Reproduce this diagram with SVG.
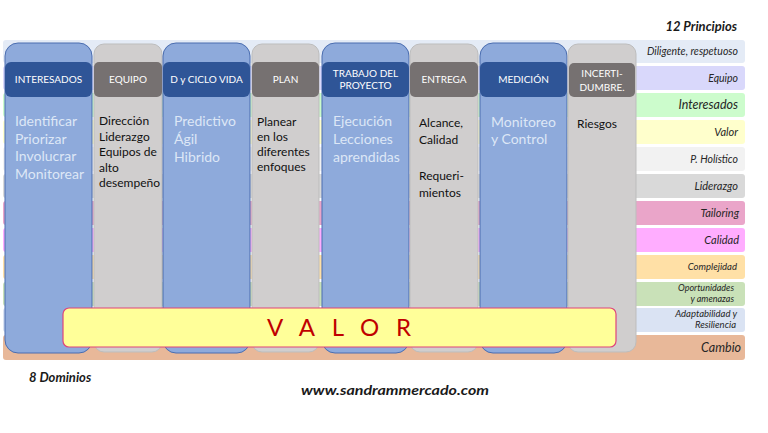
<svg xmlns="http://www.w3.org/2000/svg" width="768" height="433" viewBox="0 0 768 433">
<style>
.band{stroke:none}
.lbl{font-family:Lato,"Liberation Sans",sans-serif;font-style:italic;fill:#262626;text-anchor:end}
.colB{fill:#8eaadb;stroke:#4a6db0;stroke-width:1}
.colG{fill:#d0cece;stroke:#bdbdbd;stroke-width:1}
.hdB{fill:#2f5597}
.hdG{fill:#767171}
.hd{font-family:Lato,"Liberation Sans",sans-serif;font-size:10px;fill:#ffffff;text-anchor:middle}
.tB{font-family:Lato,"Liberation Sans",sans-serif;font-size:14px;fill:#dde7f6}
.tG{font-family:Lato,"Liberation Sans",sans-serif;font-size:12px;fill:#111111}
.ttl{font-family:Lato,"Liberation Sans",sans-serif;font-style:italic;font-weight:bold;font-size:13px;fill:#1a1a1a}
</style>
<rect width="768" height="433" fill="#ffffff"/>
<g id="principios">
<rect class="band" x="3" y="40" width="742" height="23" rx="3" fill="#e4ebf6"/>
<rect class="band" x="3" y="66" width="742" height="24" rx="3" fill="#d9d8fb"/>
<rect class="band" x="3" y="93" width="742" height="24" rx="3" fill="#ccfccc"/>
<rect class="band" x="3" y="120" width="742" height="24" rx="3" fill="#ffffcc"/>
<rect class="band" x="3" y="147" width="742" height="24" rx="3" fill="#f2f2f2"/>
<rect class="band" x="3" y="174" width="742" height="24" rx="3" fill="#d9d9d9"/>
<rect class="band" x="3" y="201" width="742" height="24" rx="3" fill="#eaa5c9"/>
<rect class="band" x="3" y="228" width="742" height="24" rx="3" fill="#ffadff"/>
<rect class="band" x="3" y="255" width="742" height="24" rx="3" fill="#ffe0a6"/>
<rect class="band" x="3" y="282" width="742" height="24" rx="3" fill="#c9e1b8"/>
<rect class="band" x="3" y="308" width="742" height="24" rx="3" fill="#dae3f3"/>
<rect class="band" x="3" y="335" width="742" height="25" rx="3" fill="#e8b899"/>
<text class="lbl" x="738" y="55" font-size="10.5">Diligente, respetuoso</text>
<text class="lbl" x="738" y="82" font-size="10.5">Equipo</text>
<text class="lbl" x="738" y="109" font-size="12.5">Interesados</text>
<text class="lbl" x="738" y="136" font-size="11">Valor</text>
<text class="lbl" x="738" y="163" font-size="10.5">P. Holístico</text>
<text class="lbl" x="738" y="190" font-size="11">Liderazgo</text>
<text class="lbl" x="739" y="217" font-size="11">Tailoring</text>
<text class="lbl" x="739" y="244" font-size="11">Calidad</text>
<text class="lbl" x="737" y="270" font-size="9.5">Complejidad</text>
<text class="lbl" x="734" y="291" font-size="9">Oportunidades</text>
<text class="lbl" x="734" y="302" font-size="9">y amenazas</text>
<text class="lbl" x="737" y="317" font-size="9.5">Adaptabilidad y</text>
<text class="lbl" x="736" y="328" font-size="9.5">Resiliencia</text>
<text class="lbl" x="741" y="352" font-size="12.5">Cambio</text>
</g>
<g id="dom-interesados">
<rect class="colB" x="5" y="43" width="87" height="310" rx="13"/>
<rect class="hdB" x="5" y="62" width="87" height="35" rx="6"/>
<text class="hd" x="48.5" y="83">INTERESADOS</text>
<text class="tB" x="15" y="126">Identificar</text>
<text class="tB" x="15" y="143.5">Priorizar</text>
<text class="tB" x="15" y="161">Involucrar</text>
<text class="tB" x="15" y="178.5">Monitorear</text>
</g>
<g id="dom-equipo">
<rect class="colG" x="94" y="44" width="68" height="308" rx="10"/>
<rect class="hdG" x="94" y="62" width="68" height="35" rx="5"/>
<text class="hd" x="128" y="83">EQUIPO</text>
<text class="tG" x="99" y="125">Dirección</text>
<text class="tG" x="99" y="140.5">Liderazgo</text>
<text class="tG" x="99" y="156">Equipos de</text>
<text class="tG" x="99" y="171.5">alto</text>
<text class="tG" x="99" y="187">desempeño</text>
</g>
<g id="dom-ciclo">
<rect class="colB" x="163" y="43" width="87" height="310" rx="13"/>
<rect class="hdB" x="163" y="62" width="87" height="35" rx="6"/>
<text class="hd" x="206.5" y="83">D y CICLO VIDA</text>
<text class="tB" x="174" y="126">Predictivo</text>
<text class="tB" x="174" y="144">Ágil</text>
<text class="tB" x="174" y="162">Hibrido</text>
</g>
<g id="dom-plan">
<rect class="colG" x="252" y="44" width="67" height="308" rx="10"/>
<rect class="hdG" x="252" y="62" width="67" height="35" rx="5"/>
<text class="hd" x="285.5" y="83">PLAN</text>
<text class="tG" x="257" y="126">Planear</text>
<text class="tG" x="257" y="141">en los</text>
<text class="tG" x="257" y="156">diferentes</text>
<text class="tG" x="257" y="171">enfoques</text>
</g>
<g id="dom-trabajo">
<rect class="colB" x="322" y="43" width="87" height="310" rx="13"/>
<rect class="hdB" x="322" y="62" width="87" height="35" rx="6"/>
<text class="hd" x="365.5" y="76.5" font-size="9.5">TRABAJO DEL</text>
<text class="hd" x="365.5" y="89" font-size="9.5">PROYECTO</text>
<text class="tB" x="333" y="126">Ejecución</text>
<text class="tB" x="333" y="144">Lecciones</text>
<text class="tB" x="333" y="162">aprendidas</text>
</g>
<g id="dom-entrega">
<rect class="colG" x="410" y="44" width="68" height="308" rx="10"/>
<rect class="hdG" x="410" y="62" width="68" height="35" rx="5"/>
<text class="hd" x="444" y="83">ENTREGA</text>
<text class="tG" x="419" y="127" font-size="14">Alcance,</text>
<text class="tG" x="419" y="144" font-size="14">Calidad</text>
<text class="tG" x="419" y="180" font-size="14">Requeri-</text>
<text class="tG" x="419" y="197" font-size="14">mientos</text>
</g>
<g id="dom-medicion">
<rect class="colB" x="480" y="43" width="87" height="310" rx="13"/>
<rect class="hdB" x="480" y="62" width="87" height="35" rx="6"/>
<text class="hd" x="523.5" y="83">MEDICIÓN</text>
<text class="tB" x="491" y="127">Monitoreo</text>
<text class="tB" x="491" y="144">y Control</text>
</g>
<g id="dom-incertidumbre">
<rect class="colG" x="568" y="44" width="68" height="308" rx="10"/>
<rect class="hdG" x="569" y="63" width="66" height="34" rx="5"/>
<text class="hd" x="602" y="77">INCERTI-</text>
<text class="hd" x="602" y="91">DUMBRE.</text>
<text class="tG" x="577" y="128" font-size="14">Riesgos</text>
</g>
<g id="valor">
<rect x="63" y="308" width="553" height="39" rx="6" fill="#ffff99" stroke="#e0457b" stroke-width="1.2"/>
<text x="267" y="336" textLength="144" lengthAdjust="spacing" font-family="Lato,'Liberation Sans',sans-serif" font-size="24" fill="#c00000">VALOR</text>
</g>
<g id="titulos">
<text class="ttl" x="737" y="31" text-anchor="end">12 Principios</text>
<text class="ttl" x="29" y="382">8 Dominios</text>
<text class="ttl" x="301" y="395" font-size="13.5" textLength="188" lengthAdjust="spacingAndGlyphs">www.sandrammercado.com</text>
</g>
</svg>
